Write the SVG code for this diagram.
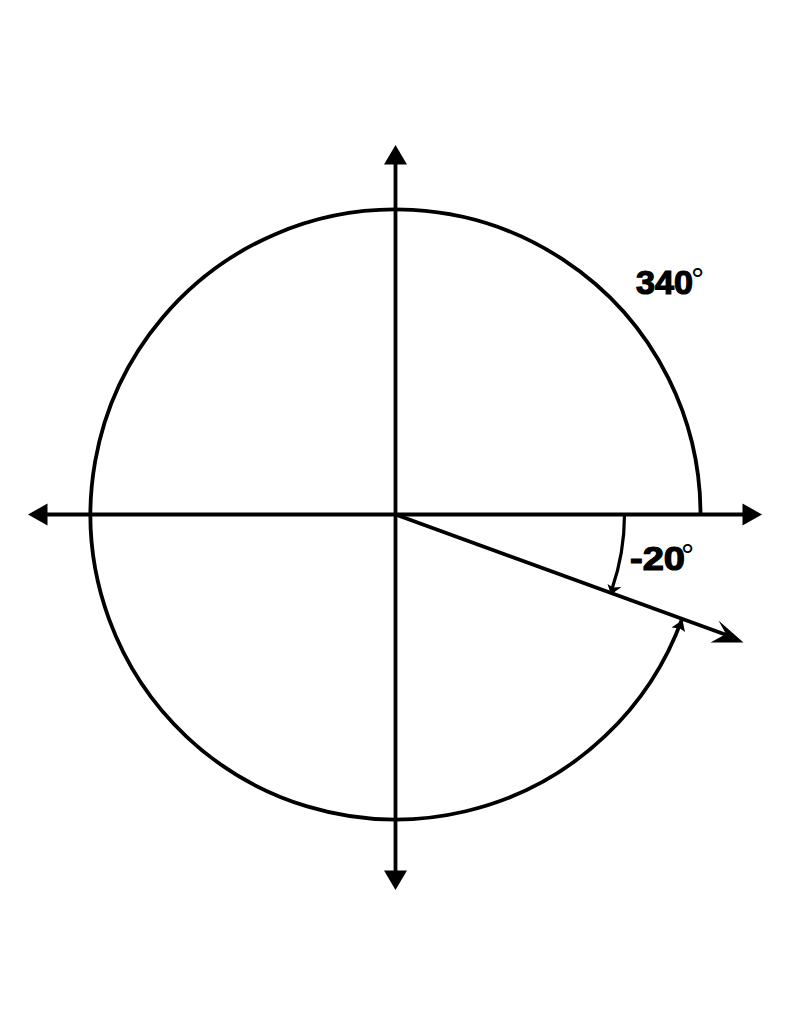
<svg xmlns="http://www.w3.org/2000/svg" width="791" height="1024" viewBox="0 0 791 1024">
<style>
.ln{fill:none;stroke:#000;stroke-width:3.8}
.ah{fill:#000;stroke:none}
.lbl{font-family:"Liberation Sans",Arial,sans-serif;font-weight:bold;font-size:33px;fill:#000;stroke:#000;stroke-width:1.2}
.deg{font-family:"Liberation Sans",Arial,sans-serif;font-weight:normal;font-size:33px;fill:#000}
</style>
<rect width="791" height="1024" fill="#fff"/>
<g id="circle">
<path class="ln" d="M 700.5 514.5 A 305 305 0 1 0 682.1 618.8"/>
<polygon class="ah" points="682.5,620 685,632 680,628.5 671.5,627.5"/>
</g>
<g id="connectors">
<line class="ln" x1="395.5" y1="163" x2="395.5" y2="872"/>
<polygon class="ah" points="395.5,145 407,164.5 384,164.5"/>
<polygon class="ah" points="395.5,890 407,870.5 384,870.5"/>
<line class="ln" x1="46" y1="514.5" x2="744" y2="514.5"/>
<polygon class="ah" points="28,514.5 47.5,503.5 47.5,525.5"/>
<polygon class="ah" points="762,514.5 742.5,503.5 742.5,525.5"/>
<line class="ln" x1="395.5" y1="514.5" x2="728" y2="635.5"/>
<polygon class="ah" points="743.5,642.5 710.5,642.5 726,634 718.5,620.5"/>
</g>
<g id="angle-20">
<path class="ln" style="stroke-width:3.2" d="M 624.5 514.5 A 229 229 0 0 1 612 589"/>
<polygon class="ah" points="611,594.5 607.5,584 613,587.5 621.5,587"/>
</g>
<g id="label-340">
<text class="lbl" x="636" y="293.5" textLength="57" lengthAdjust="spacingAndGlyphs">340</text>
<text class="deg" x="691" y="291">°</text>
</g>
<g id="label-20">
<text class="lbl" x="630" y="569.5" textLength="55" lengthAdjust="spacingAndGlyphs">-20</text>
<text class="deg" x="681" y="567">°</text>
</g>
</svg>
